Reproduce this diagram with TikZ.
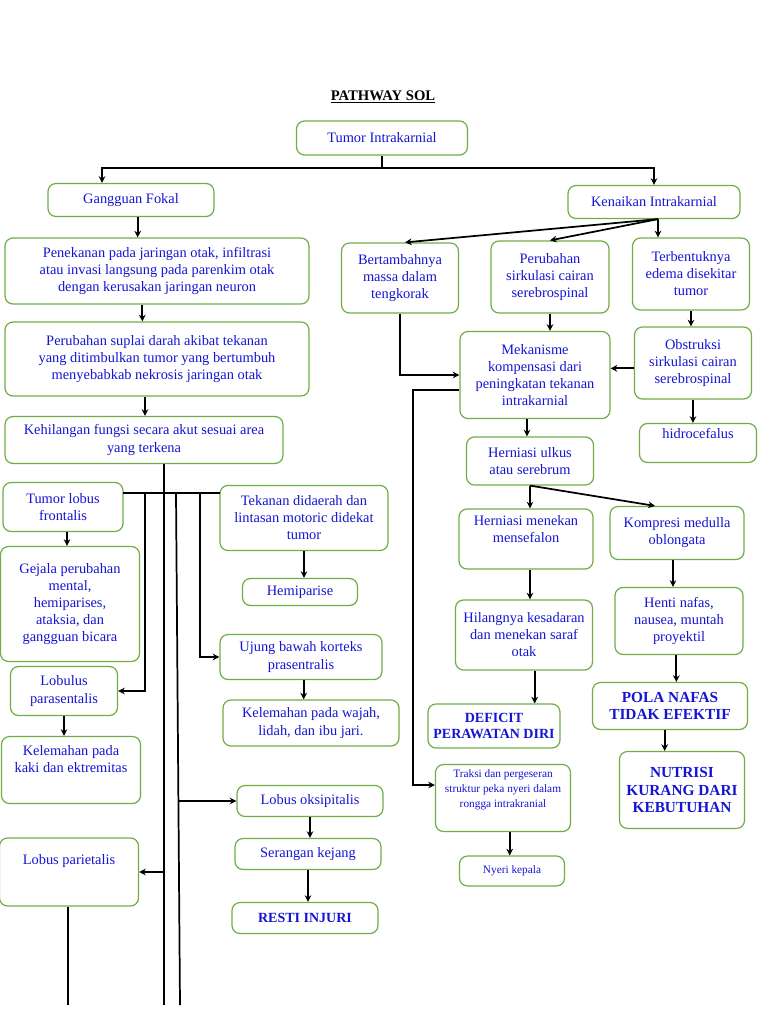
\documentclass[tikz,border=0pt]{standalone}
\usepackage{fontspec}
\setmainfont{Liberation Serif}
\usetikzlibrary{arrows.meta}
\definecolor{boxgreen}{RGB}{112,173,71}
\definecolor{txtblue}{RGB}{20,20,210}
\tikzset{
  box/.style={draw=boxgreen,line width=0.9pt,rounded corners=6pt,text=txtblue,align=center,
    font=\fontsize{10.8}{12.8}\selectfont,inner sep=1pt},
  bx/.style 2 args={box,minimum width=0.75pt*#1,minimum height=0.75pt*#2},
  hot/.style={font=\fontsize{10.5}{12.5}\selectfont\bfseries},
  small/.style={font=\fontsize{8.5}{11}\selectfont},
  arr/.style={-{Stealth[length=5pt,width=5pt]}},
  every path/.style={line width=1.3pt}
}
\begin{document}
\begin{tikzpicture}[x=0.75pt,y=-0.75pt]
\useasboundingbox (0,0) rectangle (768,1024);
\node (title) at (383,97) {\fontsize{11}{13}\selectfont\bfseries\underline{PATHWAY SOL}};
% top
\node[bx={171}{34}] (tumor) at (382,138) {Tumor Intrakarnial};
\node[bx={166}{33}] (fokal) at (131,200) {Gangguan Fokal};
\node[bx={172}{33}] (kenaikan) at (654,202) {Kenaikan Intrakarnial};
% left column
\node[bx={304}{66}] (penekanan) at (157,271) {Penekanan pada jaringan otak, infiltrasi\\atau invasi langsung pada parenkim otak\\dengan kerusakan jaringan neuron};
\node[bx={304}{74}] (suplai) at (157,359) {Perubahan suplai darah akibat tekanan\\yang ditimbulkan tumor yang bertumbuh\\menyebabkab nekrosis jaringan otak};
\node[bx={278}{47}] (kehilangan) at (144,440) {Kehilangan fungsi secara akut sesuai area\\yang terkena};
\node[bx={120}{49}] (frontalis) at (63,507) {Tumor lobus\\frontalis};
\node[bx={139}{115}] (gejala) at (70,604) {Gejala perubahan\\mental,\\hemiparises,\\ataksia, dan\\gangguan bicara};
\node[bx={107}{49}] (lobulus) at (64,691) {Lobulus\\parasentalis};
\node[bx={139}{67}] (kaki) at (71,770) {Kelemahan pada\\kaki dan ektremitas\\[4pt]};
\node[bx={139}{68}] (parietalis) at (69,872) {Lobus parietalis\\[6pt]};
\node[bx={168}{65}] (tekanan) at (304,518) {Tekanan didaerah dan\\lintasan motoric didekat\\tumor};
\node[bx={115}{27}] (hemi) at (300,592) {Hemiparise};
\node[bx={162}{45}] (ujung) at (301,657) {Ujung bawah korteks\\prasentralis};
\node[bx={176}{46}] (wajah) at (311,723) {Kelemahan pada wajah,\\lidah, dan ibu jari.};
\node[bx={146}{31}] (oksi) at (310,801) {Lobus oksipitalis};
\node[bx={146}{31}] (kejang) at (308,854) {Serangan kejang};
\node[bx={146}{31},hot] (resti) at (305,918) {RESTI INJURI};
% right column
\node[bx={117}{70}] (bertambah) at (400,278) {Bertambahnya\\massa dalam\\tengkorak};
\node[bx={118}{72}] (sirkulasi) at (550,277) {Perubahan\\sirkulasi cairan\\serebrospinal};
\node[bx={117}{72}] (edema) at (691,274) {Terbentuknya\\edema disekitar\\tumor};
\node[bx={150}{87}] (mekanisme) at (535,375) {Mekanisme\\kompensasi dari\\peningkatan tekanan\\intrakarnial};
\node[bx={117}{72}] (obstruksi) at (693,363) {Obstruksi\\sirkulasi cairan\\serebrospinal};
\node[bx={117}{39}] (hidro) at (698,443) {hidrocefalus\\[2pt]};
\node[bx={127}{48}] (hulkus) at (530,461) {Herniasi ulkus\\atau serebrum};
\node[bx={134}{60}] (hmenekan) at (526,539) {Herniasi menekan\\mensefalon\\[2pt]};
\node[bx={134}{53}] (kompresi) at (677,533) {Kompresi medulla\\oblongata};
\node[bx={137}{70}] (hilang) at (524,635) {Hilangnya kesadaran\\dan menekan saraf\\otak};
\node[bx={128}{67}] (henti) at (679,621) {Henti nafas,\\nausea, muntah\\proyektil};
\node[bx={132}{44},hot] (deficit) at (494,726) {DEFICIT\\PERAWATAN DIRI};
\node[bx={155}{47},hot,font=\fontsize{11.5}{13}\selectfont\bfseries] (pola) at (670,706) {POLA NAFAS\\TIDAK EFEKTIF};
\node[bx={125}{77},hot,font=\fontsize{11.5}{13}\selectfont\bfseries] (nutrisi) at (682,790) {NUTRISI\\KURANG DARI\\KEBUTUHAN};
\node[bx={135}{67},small] (traksi) at (503,798) {Traksi dan pergeseran\\struktur peka nyeri dalam\\rongga intrakranial\\[3pt]};
\node[bx={105}{30},small] (nyeri) at (512,871) {Nyeri kepala};
% connectors: top
\draw (tumor.south) -- (382,168) coordinate (j1);
\draw[arr] (j1) -| ([xshift=-21.75pt]fokal.north);
\draw[arr] (j1) -| (kenaikan.north);
\draw[arr] ([xshift=5pt]fokal.south) -- ([xshift=5pt]fokal.south|-penekanan.north);
\draw[arr] ([xshift=-11pt]penekanan.south) -- ([xshift=-11pt]penekanan.south|-suplai.north);
\draw[arr] ([xshift=-9pt]suplai.south) -- ([xshift=-9pt]suplai.south|-kehilangan.north);
% left bus
\draw ([xshift=15pt]kehilangan.south) -- (164,1005);
\coordinate (b1) at (123,493);
\coordinate (b2) at (220,493);
\draw (b1) -- (b2);
\draw[arr] (145,493) |- (lobulus.east);
\draw (176,493) -- (180,1005);
\draw[arr] (179,801) -- (oksi.west);
\draw[arr] (200,493) |- (ujung.west);
\draw[arr] (164,872) -- (parietalis.east);
\draw ([xshift=-0.75pt]parietalis.south) -- (68,1005);
\draw[arr] ([xshift=3pt]frontalis.south) -- ([xshift=3pt]frontalis.south|-gejala.north);
\draw[arr] (lobulus.south) -- (lobulus.south|-kaki.north);
\draw[arr] (tekanan.south) -- (tekanan.south|-hemi.north);
\draw[arr] ([xshift=2pt]ujung.south) -- ([xshift=2pt]ujung.south|-wajah.north);
\draw[arr] (oksi.south) -- (oksi.south|-kejang.north);
\draw[arr] (kejang.south) -- (kejang.south|-resti.north);
% right side
\draw[arr] ([xshift=3pt]kenaikan.south) -- ([xshift=3.75pt]bertambah.north);
\draw[arr] ([xshift=3pt]kenaikan.south) -- (sirkulasi.north);
\draw[arr] ([xshift=3pt]kenaikan.south) -- ([xshift=3pt]kenaikan.south|-edema.north);
\draw[arr] (bertambah.south) |- (mekanisme.west);
\draw[arr] (sirkulasi.south) -- (sirkulasi.south|-mekanisme.north);
\draw[arr] (edema.south) -- (edema.south|-obstruksi.north);
\draw[arr] ([yshift=-4pt]obstruksi.west) -- ([yshift=-4pt]obstruksi.west-|mekanisme.east);
\draw[arr] (obstruksi.south) -- (obstruksi.south|-hidro.north);
\draw[arr] ([xshift=-6pt]mekanisme.south) -- ([xshift=-6pt]mekanisme.south|-hulkus.north);
\draw[arr] ([yshift=-11.25pt]mekanisme.west) -- (413,390) |- ([yshift=9.75pt]traksi.west);
\draw[arr] (hulkus.south) -- (hulkus.south|-hmenekan.north);
\draw[arr] (hulkus.south) -- ([xshift=-16.5pt]kompresi.north);
\draw[arr] ([xshift=3pt]hmenekan.south) -- ([xshift=3pt]hmenekan.south|-hilang.north);
\draw[arr] ([xshift=8pt]hilang.south) -- ([xshift=8pt]hilang.south|-deficit.north);
\draw[arr] ([xshift=-3pt]kompresi.south) -- ([xshift=-3pt]kompresi.south|-henti.north);
\draw[arr] ([xshift=-2pt]henti.south) -- ([xshift=-2pt]henti.south|-pola.north);
\draw[arr] ([xshift=-4pt]pola.south) -- ([xshift=-4pt]pola.south|-nutrisi.north);
\draw[arr] ([xshift=5pt]traksi.south) -- ([xshift=5pt]traksi.south|-nyeri.north);
\end{tikzpicture}
\end{document}
